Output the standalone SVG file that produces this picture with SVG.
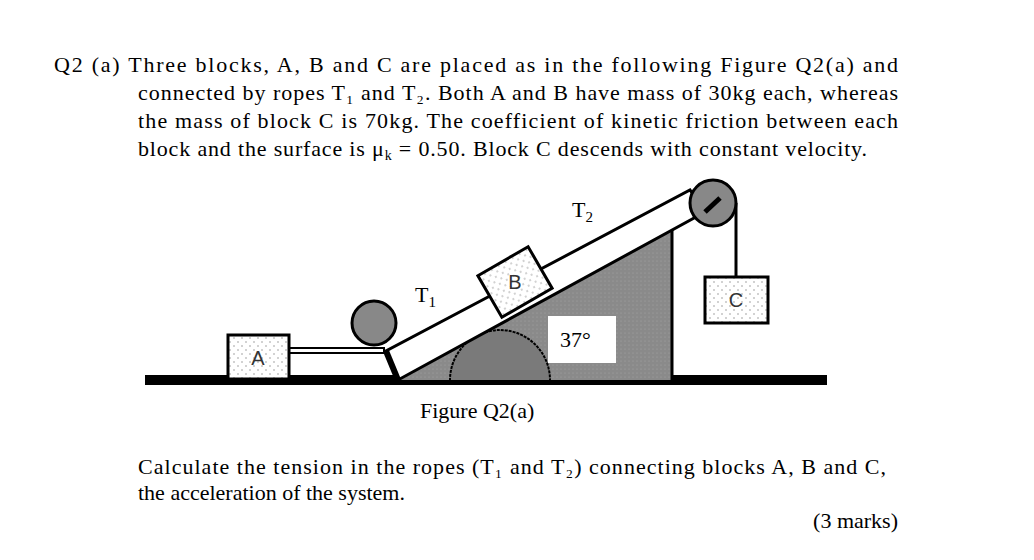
<svg xmlns="http://www.w3.org/2000/svg" width="1034" height="560" viewBox="0 0 1034 560">
<style>
.t{font-family:"Liberation Serif","Times New Roman",serif;font-size:22px;fill:#000}
.lbl{font-family:"Liberation Sans",Arial,sans-serif;font-size:20px;fill:#333}
.blk{fill:url(#dots);stroke:#000;stroke-width:3}
.ln{stroke:#000;stroke-width:3;fill:none}
</style>
<defs>
<pattern id="dots" width="8" height="8" patternUnits="userSpaceOnUse"><rect width="8" height="8" fill="#fff"/><circle cx="2" cy="2" r="0.8" fill="#999"/><circle cx="6" cy="6" r="0.8" fill="#999"/></pattern>
<pattern id="gray" width="4" height="4" patternUnits="userSpaceOnUse"><rect width="4" height="4" fill="#8a8a8a"/><circle cx="1" cy="1" r="0.6" fill="#a5a5a5"/></pattern>
<clipPath id="tri"><polygon points="398,380 672,380 672,225"/></clipPath>
</defs>
<g id="text">
<text class="t" x="54" y="72" textLength="844" lengthAdjust="spacing">Q2 (a) Three blocks, A, B and C are placed as in the following Figure Q2(a) and</text>
<text class="t" x="138" y="100" textLength="760" lengthAdjust="spacing">connected by ropes T₁ and T₂. Both A and B have mass of 30kg each, whereas</text>
<text class="t" x="138" y="128" textLength="760" lengthAdjust="spacing">the mass of block C is 70kg. The coefficient of kinetic friction between each</text>
<text class="t" x="138" y="156" textLength="729" lengthAdjust="spacing">block and the surface is μ<tspan font-size="14" dy="4">k</tspan><tspan dy="-4"> = 0.50. Block C descends with constant velocity.</tspan></text>
<text class="t" x="420" y="418">Figure Q2(a)</text>
<text class="t" x="138" y="474" textLength="748" lengthAdjust="spacing">Calculate the tension in the ropes (T₁ and T₂) connecting blocks A, B and C,</text>
<text class="t" x="138" y="500">the acceleration of the system.</text>
<text class="t" x="898" y="528" text-anchor="end">(3 marks)</text>
</g>
<g id="ground"><rect x="145" y="375" width="682" height="10" fill="#000"/></g>
<g id="wedge">
<polygon points="398,380 672,380 672,225" fill="url(#gray)"/>
<circle cx="500" cy="380" r="50" fill="#7a7a7a" stroke="#000" stroke-width="2" stroke-dasharray="3,1" clip-path="url(#tri)"/>
<line class="ln" x1="672" y1="228" x2="672" y2="380" stroke-width="2.5"/>
<rect x="548" y="316" width="68" height="47" fill="#fff"/>
<text class="t" x="560" y="347">37°</text>
</g>
<g id="plank">
<polygon points="398,380 386,351 690,190 705,212" fill="#fff" stroke="#000" stroke-width="3"/>
<line x1="386" y1="351" x2="398" y2="380" stroke="#000" stroke-width="6"/>
</g>
<g id="connectors">
<rect x="289" y="348" width="95" height="5" fill="#fff" stroke="#000" stroke-width="2"/>
<line class="ln" x1="736" y1="203" x2="736" y2="277" stroke-width="2.5"/>
</g>
<g id="pulley1"><circle cx="374" cy="323" r="22" fill="#888" stroke="#000" stroke-width="3"/></g>
<g id="pulley2"><circle cx="713" cy="203" r="23" fill="#888" stroke="#000" stroke-width="3"/><line x1="705" y1="212" x2="720" y2="198" stroke="#000" stroke-width="5"/></g>
<g id="blockA"><rect class="blk" x="228" y="335" width="61" height="44"/><text class="lbl" x="258" y="365" text-anchor="middle">A</text></g>
<g id="blockB"><g transform="translate(515,282) rotate(-30)"><rect class="blk" x="-29" y="-24" width="58" height="48"/><text class="lbl" x="0" y="7" text-anchor="middle" transform="rotate(30)">B</text></g></g>
<g id="blockC"><rect class="blk" x="705" y="277" width="63" height="46"/><text class="lbl" x="736" y="307" text-anchor="middle">C</text></g>
<g id="labels">
<text class="t" x="415" y="302">T<tspan font-size="15" dy="5">1</tspan></text>
<text class="t" x="572" y="217">T<tspan font-size="15" dy="5">2</tspan></text>
</g>
</svg>
